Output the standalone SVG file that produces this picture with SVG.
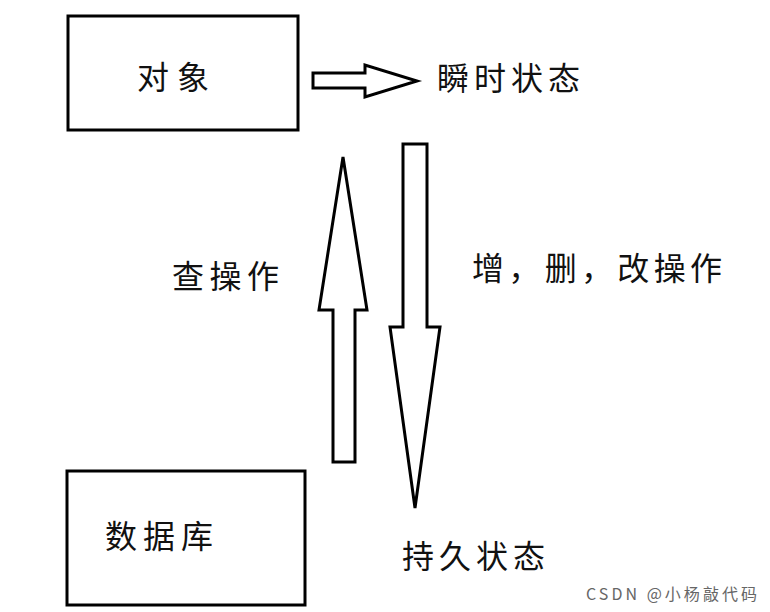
<svg xmlns="http://www.w3.org/2000/svg" width="770" height="612" viewBox="0 0 770 612">
<style>
.b{fill:#fff;stroke:#000;stroke-width:3}
.a{fill:#fff;stroke:#000;stroke-width:3;stroke-linejoin:miter}
text{font-family:"Noto Sans CJK SC",sans-serif;font-size:32px;fill:#111}
.w{font-size:16px;fill:#666}
</style>
<rect width="770" height="612" fill="#fff"/>
<g id="obj"><rect class="b" x="68" y="16" width="230" height="114"/><text x="137" y="89" textLength="72">对象</text></g>
<g id="db"><rect class="b" x="67" y="471" width="238" height="134"/><text x="105" y="548" textLength="108">数据库</text></g>
<g id="connectors">
<polygon class="a" points="313,73 365,73 365,65 417,81 365,97 365,88 313,88"/>
<polygon class="a" points="343,157 367,310 355,310 355,462 333,462 333,310 319,310"/>
<polygon class="a" points="403,144 427,144 427,327 440,327 415,508 390,327 403,327"/>
</g>
<text x="437" y="90" textLength="143">瞬时状态</text>
<text x="172" y="288" textLength="107">查操作</text>
<text x="472" y="280" textLength="250">增，删，改操作</text>
<text x="402" y="568" textLength="143">持久状态</text>
<text class="w" x="586" y="600" textLength="171">CSDN @小杨敲代码</text>
</svg>
